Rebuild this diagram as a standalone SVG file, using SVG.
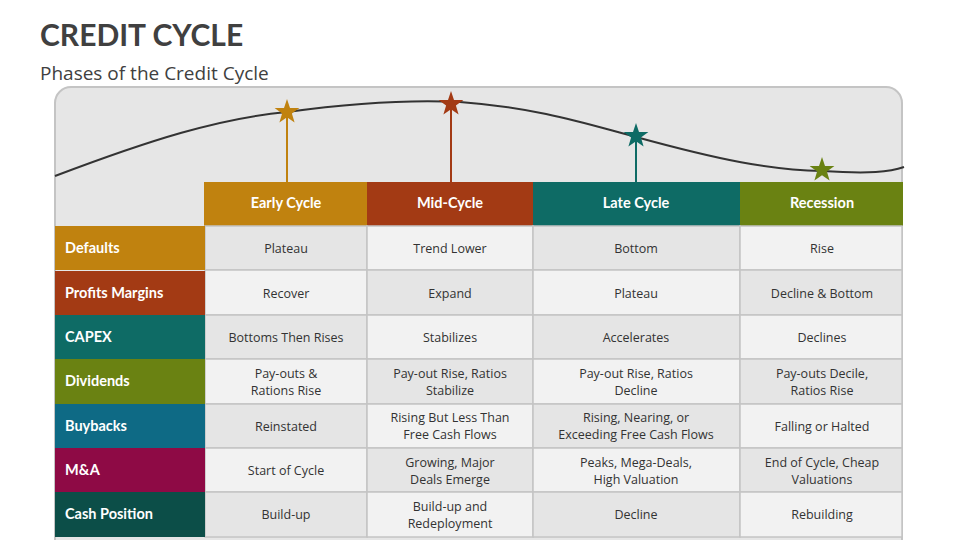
<svg xmlns="http://www.w3.org/2000/svg" width="960" height="540" viewBox="0 0 960 540">
<style>
.t{font-family:"Open Sans","Liberation Sans",sans-serif;font-size:12.5px;fill:#333;text-anchor:middle}
.h{font-family:"Lato","Liberation Sans",sans-serif;font-weight:bold;font-size:14.5px;fill:#fff;text-anchor:middle}
.r{font-family:"Lato","Liberation Sans",sans-serif;font-weight:bold;font-size:14.5px;fill:#fff}
.d{fill:#e5e5e5;stroke:#c4c4c4;stroke-width:1.5}
.l{fill:#f2f2f2;stroke:#c4c4c4;stroke-width:1.5}
</style>
<defs>
<polygon id="star" points="0,-13 3,-4.1 12.4,-4 4.9,1.6 7.6,10.5 0,5.2 -7.6,10.5 -4.9,1.6 -12.4,-4 -3,-4.1"/>
</defs>
<text x="40" y="46" font-family="Lato,'Liberation Sans',sans-serif" font-weight="bold" font-size="30" fill="#404040">CREDIT CYCLE</text>
<text x="40" y="80" font-family="'Open Sans','Liberation Sans',sans-serif" font-size="19" fill="#404040">Phases of the Credit Cycle</text>
<rect x="55" y="87" width="847" height="470" rx="16" fill="#e6e6e6" stroke="#c4c4c4" stroke-width="2"/>
<g id="connectors">
<path d="M55,176 C150,140 220,118 287,112 C360,102 420,100 460,102 C540,108 590,125 636,137 C720,160 770,170 822,171 C870,174 890,172 904,167" fill="none" stroke="#333" stroke-width="2"/>
<line x1="287" y1="112" x2="287" y2="182" stroke="#C0820F" stroke-width="2"/>
<line x1="451" y1="104" x2="451" y2="182" stroke="#A33A14" stroke-width="2"/>
<line x1="636" y1="135" x2="636" y2="182" stroke="#0E6B65" stroke-width="2"/>
</g>
<g id="stars">
<use href="#star" x="287" y="112" fill="#C0820F"/>
<use href="#star" x="451" y="104" fill="#A33A14"/>
<use href="#star" x="636" y="136" fill="#0E6B65"/>
<use href="#star" x="822" y="170" fill="#6A8212"/>
</g>
<g id="headers">
<rect x="204" y="182" width="163" height="44" fill="#C0820F"/><text class="h" x="286" y="208">Early Cycle</text>
<rect x="367" y="182" width="166" height="44" fill="#A33A14"/><text class="h" x="450" y="208">Mid-Cycle</text>
<rect x="533" y="182" width="207" height="44" fill="#0E6B65"/><text class="h" x="636" y="208">Late Cycle</text>
<rect x="740" y="182" width="163" height="44" fill="#6A8212"/><text class="h" x="822" y="208">Recession</text>
</g>
<g id="cells">
<rect class="d" x="205" y="226" width="162" height="44"/><rect class="l" x="367" y="226" width="166" height="44"/><rect class="d" x="533" y="226" width="207" height="44"/><rect class="l" x="740" y="226" width="162" height="44"/>
<rect class="l" x="205" y="270" width="162" height="45"/><rect class="d" x="367" y="270" width="166" height="45"/><rect class="l" x="533" y="270" width="207" height="45"/><rect class="d" x="740" y="270" width="162" height="45"/>
<rect class="d" x="205" y="315" width="162" height="44"/><rect class="l" x="367" y="315" width="166" height="44"/><rect class="d" x="533" y="315" width="207" height="44"/><rect class="l" x="740" y="315" width="162" height="44"/>
<rect class="l" x="205" y="359" width="162" height="45"/><rect class="d" x="367" y="359" width="166" height="45"/><rect class="l" x="533" y="359" width="207" height="45"/><rect class="d" x="740" y="359" width="162" height="45"/>
<rect class="d" x="205" y="404" width="162" height="44"/><rect class="l" x="367" y="404" width="166" height="44"/><rect class="d" x="533" y="404" width="207" height="44"/><rect class="l" x="740" y="404" width="162" height="44"/>
<rect class="l" x="205" y="448" width="162" height="44"/><rect class="d" x="367" y="448" width="166" height="44"/><rect class="l" x="533" y="448" width="207" height="44"/><rect class="d" x="740" y="448" width="162" height="44"/>
<rect class="d" x="205" y="492" width="162" height="45"/><rect class="l" x="367" y="492" width="166" height="45"/><rect class="d" x="533" y="492" width="207" height="45"/><rect class="l" x="740" y="492" width="162" height="45"/>
</g>
<g id="rowlabels">
<rect x="55" y="226" width="150" height="44" fill="#C0820F"/><text class="r" x="65" y="253">Defaults</text>
<rect x="55" y="271" width="150" height="44" fill="#A33A14"/><text class="r" x="65" y="298">Profits Margins</text>
<rect x="55" y="315" width="150" height="44" fill="#0E6B65"/><text class="r" x="65" y="342">CAPEX</text>
<rect x="55" y="359" width="150" height="45" fill="#6A8212"/><text class="r" x="65" y="386">Dividends</text>
<rect x="55" y="404" width="150" height="44" fill="#0E6A85"/><text class="r" x="65" y="431">Buybacks</text>
<rect x="55" y="448" width="150" height="44" fill="#8E0A45"/><text class="r" x="65" y="475">M&amp;A</text>
<rect x="55" y="492" width="150" height="45" fill="#0C4E48"/><text class="r" x="65" y="519">Cash Position</text>
</g>
<g id="texts">
<text class="t" x="286" y="253">Plateau</text><text class="t" x="450" y="253">Trend Lower</text><text class="t" x="636" y="253">Bottom</text><text class="t" x="822" y="253">Rise</text>
<text class="t" x="286" y="298">Recover</text><text class="t" x="450" y="298">Expand</text><text class="t" x="636" y="298">Plateau</text><text class="t" x="822" y="298">Decline &amp; Bottom</text>
<text class="t" x="286" y="342">Bottoms Then Rises</text><text class="t" x="450" y="342">Stabilizes</text><text class="t" x="636" y="342">Accelerates</text><text class="t" x="822" y="342">Declines</text>
<text class="t" x="286" y="378">Pay-outs &amp;</text><text class="t" x="286" y="395">Rations Rise</text>
<text class="t" x="450" y="378">Pay-out Rise, Ratios</text><text class="t" x="450" y="395">Stabilize</text>
<text class="t" x="636" y="378">Pay-out Rise, Ratios</text><text class="t" x="636" y="395">Decline</text>
<text class="t" x="822" y="378">Pay-outs Decile,</text><text class="t" x="822" y="395">Ratios Rise</text>
<text class="t" x="286" y="431">Reinstated</text>
<text class="t" x="450" y="422">Rising But Less Than</text><text class="t" x="450" y="439">Free Cash Flows</text>
<text class="t" x="636" y="422">Rising, Nearing, or</text><text class="t" x="636" y="439">Exceeding Free Cash Flows</text>
<text class="t" x="822" y="431">Falling or Halted</text>
<text class="t" x="286" y="475">Start of Cycle</text>
<text class="t" x="450" y="467">Growing, Major</text><text class="t" x="450" y="484">Deals Emerge</text>
<text class="t" x="636" y="467">Peaks, Mega-Deals,</text><text class="t" x="636" y="484">High Valuation</text>
<text class="t" x="822" y="467">End of Cycle, Cheap</text><text class="t" x="822" y="484">Valuations</text>
<text class="t" x="286" y="519">Build-up</text>
<text class="t" x="450" y="511">Build-up and</text><text class="t" x="450" y="528">Redeployment</text>
<text class="t" x="636" y="519">Decline</text><text class="t" x="822" y="519">Rebuilding</text>
</g>
</svg>
